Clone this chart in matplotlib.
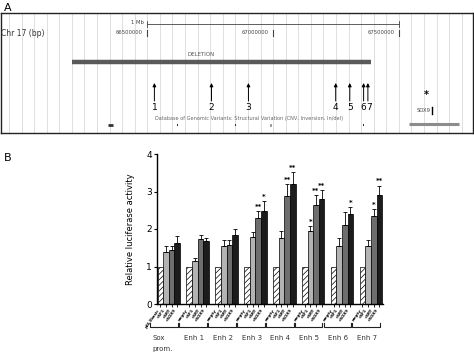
import matplotlib.pyplot as plt
import matplotlib.transforms as mtransforms
import numpy as np

# ---- Panel A data (chr17 positions, bp) ----
scale_ticks = [66500000, 67000000, 67500000]
deletion = (66200000, 67390000)
enh_pos = [66528000, 66755000, 66902000, 67249000, 67305000, 67360000, 67377000]
enh_names = ['1', '2', '3', '4', '5', '6', '7']
dgv_pos = [66352000, 66619000, 66850000, 66990000, 67360000]
dgv_width = [20000, 3000, 3000, 6000, 3000]
sox9_pos = 67632000
sox9_track = (67540000, 67740000)
star_pos = 67608000

# ---- Panel B data ----
groups = ['Sox\nprom.', 'Enh 1', 'Enh 2', 'Enh 3', 'Enh 4', 'Enh 5', 'Enh 6', 'Enh 7']
conditions = ['empty', '+SF1', '+SRY', '+SOX9']
ctrl = [1, 1, 1, 1, 1, 1, 1, 1]
c1 = [1.40, 1.14, 1.54, 1.78, 1.76, 1.96, 1.54, 1.55]
c1_err = [0.15, 0.09, 0.17, 0.15, 0.20, 0.12, 0.23, 0.15]
c2 = [1.43, 1.73, 1.57, 2.30, 2.88, 2.63, 2.10, 2.35]
c2_err = [0.12, 0.11, 0.13, 0.18, 0.33, 0.28, 0.35, 0.18]
c3 = [1.64, 1.67, 1.84, 2.47, 3.21, 2.81, 2.40, 2.92]
c3_err = [0.17, 0.10, 0.17, 0.27, 0.30, 0.23, 0.19, 0.24]
stars1 = ['', '', '', '', '', '*', '', '']
stars2 = ['', '', '', '**', '**', '**', '', '*']
stars3 = ['', '', '', '*', '**', '**', '*', '**']

plt.rcParams['hatch.linewidth'] = 0.5
fig = plt.figure(figsize=(4.74, 3.55), dpi=100)
W, H = 474.0, 355.0

def px_axes(x0, y0, x1, y1):
    return fig.add_axes([x0 / W, 1 - y1 / H, (x1 - x0) / W, (y1 - y0) / H])

# ================= Panel A =================
fig.text(8 / W, 1 - 8 / H, 'A', fontsize=8, va='center', ha='center')
axA = px_axes(1, 13, 473, 133)
axA.set_xlim(65918000, 67795000)
axA.set_ylim(133, 13)
axA.set_xticks([])
axA.set_yticks([])
for s in axA.spines.values():
    s.set_linewidth(1.0)
    s.set_color('#222222')

# 50 kb background grid
for gx in np.arange(65950000, 67800000, 50000):
    axA.axvline(gx, color='#d9d9d9', lw=0.6, zorder=0)

# scale bar
axA.plot([scale_ticks[0], scale_ticks[-1]], [24, 24], color='#444444', lw=0.6)
for sx in [scale_ticks[0], scale_ticks[-1]]:
    axA.plot([sx, sx], [21, 27], color='#444444', lw=0.6)
axA.text(scale_ticks[0] - 12000, 23, '1 Mb', fontsize=3.8, ha='right', va='center', color='#444444')
for t in scale_ticks:
    axA.plot([t, t], [30, 36], color='#444444', lw=0.8)
    axA.text(t - 18000, 33, str(t), fontsize=3.8, ha='right', va='center', color='#444444')
axA.text(0.0, 33, 'Chr 17 (bp)', fontsize=5.5, ha='left', va='center', color='#333333',
         transform=mtransforms.blended_transform_factory(axA.transAxes, axA.transData))

# deletion
axA.plot(deletion, [62, 62], color='#5a5a5a', lw=3.2, solid_capstyle='butt')
axA.text(sum(deletion) / 2 - 80000, 55, 'DELETION', fontsize=4, ha='center', va='center', color='#555555')

# enhancer arrows
for x, n in zip(enh_pos, enh_names):
    axA.annotate('', xy=(x, 83), xytext=(x, 101),
                 arrowprops=dict(arrowstyle='-|>', color='black', lw=0.7,
                                 mutation_scale=5, shrinkA=0, shrinkB=0))
    off = -3000 if n == '6' else (4000 if n == '7' else 0)
    axA.text(x + off, 108, n, fontsize=6.5, ha='center', va='center')

# SOX9
axA.text(star_pos, 95, '*', fontsize=7, ha='center', va='center', fontweight='bold')
axA.text(sox9_pos - 6000, 111, 'SOX9', fontsize=3.8, ha='right', va='center', color='#444444')
axA.plot([sox9_pos, sox9_pos], [107, 114], color='black', lw=1.0)
axA.plot(sox9_track, [124, 124], color='#8c8c8c', lw=2.2, solid_capstyle='butt')

# DGV track
axA.text(66903000, 119, 'Database of Genomic Variants: Structural Variation (CNV, Inversion, In/del)',
         fontsize=3.6, ha='center', va='center', color='#666666')
for x, w in zip(dgv_pos, dgv_width):
    axA.plot([x - w / 2, x + w / 2], [125, 125], color='#333333', lw=2.0 if w > 5000 else 1.5,
             solid_capstyle='butt')

# ================= Panel B =================
fig.text(8 / W, 1 - 158 / H, 'B', fontsize=8, va='center', ha='center')
ax = px_axes(157, 154, 383, 304)

n = len(groups)
x = np.arange(n)
w = 0.195
series = [(ctrl, None, 'white', '//////'), (c1, c1_err, '#b3b3b3', None),
          (c2, c2_err, '#6e6e6e', None), (c3, c3_err, '#1c1c1c', None)]
stars = [None, stars1, stars2, stars3]
bar_x = []
for k, (vals, errs, col, hatch) in enumerate(series):
    xs = x + (k - 1.5) * w
    bar_x.append(xs)
    ax.bar(xs, vals, w, color=col, edgecolor='black', linewidth=0.5, hatch=hatch)
    if errs is not None:
        ax.errorbar(xs, vals, yerr=[np.zeros(n), errs], fmt='none', ecolor='black',
                    elinewidth=0.6, capsize=1.2, capthick=0.6)
        for xi, v, e, s in zip(xs, vals, errs, stars[k]):
            if s:
                ax.text(xi, v + e + 0.03, s, fontsize=5, ha='center', va='bottom',
                        fontweight='bold')

ax.set_xlim(-0.41, n - 1 + 0.42)
ax.set_ylim(0, 4)
ax.set_yticks([0, 1, 2, 3, 4])
ax.tick_params(axis='y', labelsize=6.5, length=2.5, width=0.8, pad=1)
all_x = np.sort(np.concatenate(bar_x))
labels = []
for g in range(n):
    for k, c in enumerate(conditions):
        labels.append('pGL3basic' if (g == 0 and k == 0) else c)
ax.set_xticks(all_x)
ax.set_xticklabels(labels, rotation=55, ha='right', fontsize=2.8, fontweight='bold')
ax.tick_params(axis='x', length=2, width=0.6, pad=1)
ax.spines['top'].set_visible(False)
ax.spines['right'].set_visible(False)
ax.spines['left'].set_linewidth(1.0)
ax.spines['bottom'].set_linewidth(1.0)
ax.set_ylabel('Relative luciferase activity', fontsize=6, labelpad=8)

# group brackets
tr = mtransforms.blended_transform_factory(ax.transData, ax.transAxes)
for g, name in enumerate(groups):
    a, b = g - 0.64, g + 0.32
    ax.plot([a, a, b, b], [-0.125, -0.15, -0.15, -0.125], color='#222222', lw=0.8,
            transform=tr, clip_on=False)
    lx = -0.56 if g == 0 else g - 0.48
    ax.text(lx, -0.21, name, fontsize=5, ha='left', va='top', transform=tr,
            color='#333333', linespacing=1.9)

fig.savefig('out.png', dpi=100, facecolor='white')
